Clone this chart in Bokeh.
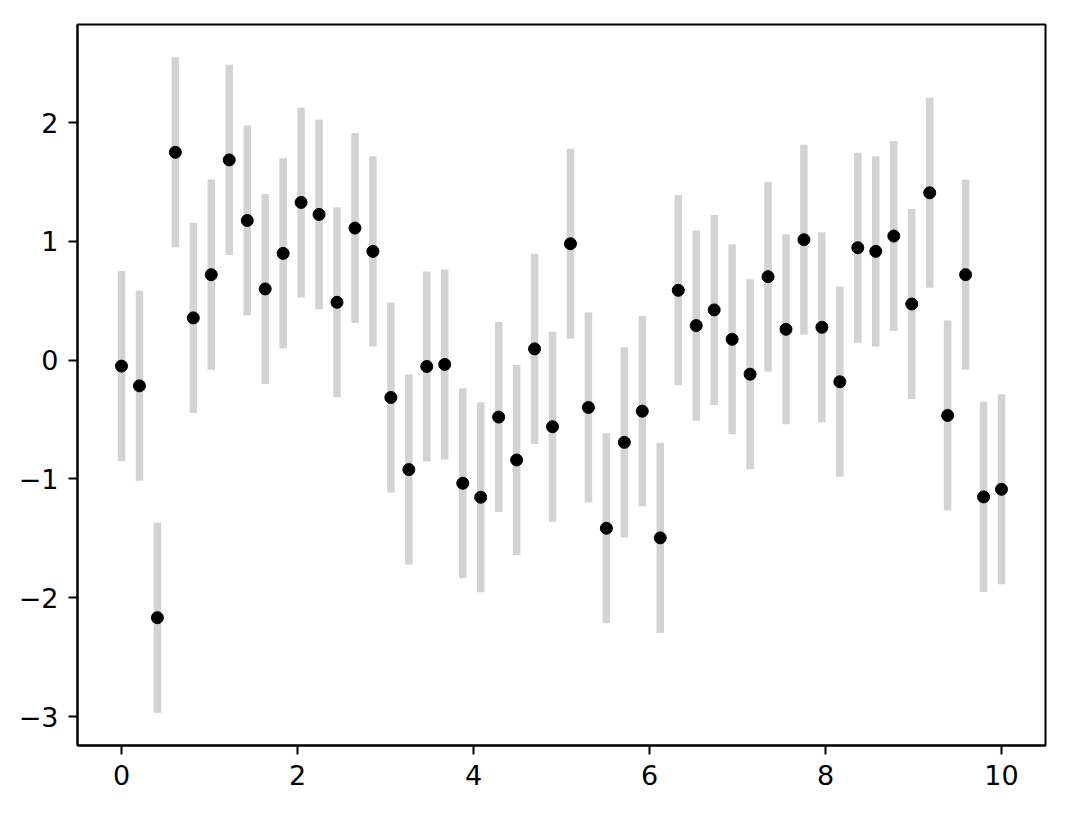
from bokeh.plotting import figure
from bokeh.models import ColumnDataSource, Range1d, FixedTicker
from bokeh.embed import file_html
from bokeh.resources import INLINE

# Data
x = [0.0, 0.204, 0.408, 0.612, 0.816, 1.020, 1.224, 1.429, 1.633, 1.837,
     2.041, 2.245, 2.449, 2.653, 2.857, 3.061, 3.265, 3.469, 3.673, 3.878,
     4.082, 4.286, 4.490, 4.694, 4.898, 5.102, 5.306, 5.510, 5.714, 5.918,
     6.122, 6.327, 6.531, 6.735, 6.939, 7.143, 7.347, 7.551, 7.755, 7.959,
     8.163, 8.367, 8.571, 8.776, 8.980, 9.184, 9.388, 9.592, 9.796, 10.0]
y = [-0.05, -0.216, -2.168, 1.75, 0.356, 0.72, 1.686, 1.176, 0.60, 0.899,
     1.328, 1.227, 0.487, 1.112, 0.916, -0.314, -0.921, -0.053, -0.036, -1.036,
     -1.154, -0.479, -0.840, 0.095, -0.560, 0.980, -0.398, -1.415, -0.692, -0.429,
     -1.496, 0.588, 0.291, 0.423, 0.176, -0.118, 0.703, 0.26, 1.014, 0.277,
     -0.182, 0.947, 0.916, 1.045, 0.473, 1.409, -0.465, 0.720, -1.151, -1.087]
dy = 0.8

x_ticks = [0, 2, 4, 6, 8, 10]
y_ticks = [-3, -2, -1, 0, 1, 2]

lower = [v - dy for v in y]
upper = [v + dy for v in y]
source = ColumnDataSource(data=dict(x=x, y=y, lower=lower, upper=upper))

# matplotlib-style 5% margins
xpad = (max(x) - min(x)) * 0.05
ypad = (max(upper) - min(lower)) * 0.05

p = figure(width=1076, height=809,
           x_range=Range1d(min(x) - xpad, max(x) + xpad),
           y_range=Range1d(min(lower) - ypad, max(upper) + ypad),
           output_backend="svg", toolbar_location=None,
           min_border_left=77, min_border_right=31,
           min_border_top=24, min_border_bottom=64)

p.segment(x0='x', y0='lower', x1='x', y1='upper', source=source,
          line_color='lightgray', line_width=7.5)
p.scatter('x', 'y', source=source, size=12, color='black')

p.grid.visible = False
p.outline_line_color = 'black'
p.outline_line_width = 2
p.background_fill_color = 'white'

p.xaxis.ticker = FixedTicker(ticks=x_ticks)
p.yaxis.ticker = FixedTicker(ticks=y_ticks)
for ax in (p.xaxis, p.yaxis):
    ax.axis_line_color = 'black'
    ax.axis_line_width = 2
    ax.major_tick_line_color = 'black'
    ax.major_tick_line_width = 2
    ax.major_tick_out = 9
    ax.major_tick_in = 0
    ax.minor_tick_line_color = None
    ax.major_label_text_font = "DejaVu Sans"
    ax.major_label_text_font_size = "27px"
    ax.major_label_text_color = 'black'
    ax.major_label_standoff = 10

open("out.html", "w").write(file_html(p, INLINE))
